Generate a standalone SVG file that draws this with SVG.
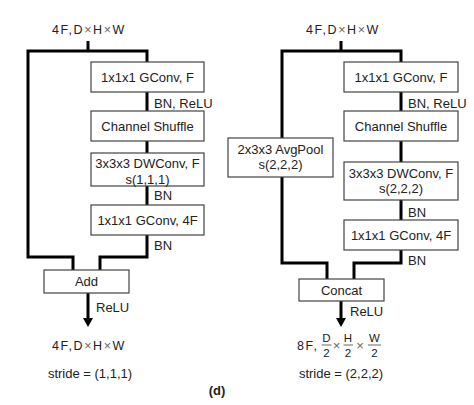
<svg xmlns="http://www.w3.org/2000/svg" width="474" height="405" viewBox="0 0 474 405">
<style>
text{font-family:"Liberation Sans",Arial,sans-serif;font-size:13px;fill:#222}
.c{text-anchor:middle}
.t{font-size:12.5px;letter-spacing:1.6px}
.x{fill:#666}
.f{font-size:11.5px;text-anchor:middle}
.m{font-size:13px;text-anchor:middle;fill:#666}
.box{fill:#fff;stroke:#444;stroke-width:1.2}
.ln{fill:none;stroke:#000;stroke-width:3;stroke-linejoin:miter}
.fl{stroke:#555;stroke-width:0.9}
.b{font-weight:bold}
</style>
<rect width="474" height="405" fill="#fff"/>
<g id="connectors">
<path class="ln" d="M88 41V51M147 62V51H28V257H73V270"/>
<path class="ln" d="M147 92V111M147 141V153M147 186V205M147 235V257H100V270"/>
<path class="ln" d="M88 293V319"/>
<polygon points="83,318 93,318 88,327" fill="#000"/>
<path class="ln" d="M341 41V51M401 62V51H282V263H327V279"/>
<path class="ln" d="M401 92V111M401 141V162M401 200V220M401 250V263H354V279"/>
<path class="ln" d="M341 301V319"/>
<polygon points="336,318 346,318 341,327" fill="#000"/>
<text x="154" y="107.5">BN, ReLU</text>
<text x="154" y="200">BN</text>
<text x="154" y="249.5">BN</text>
<text x="96" y="312">ReLU</text>
<text x="408" y="107.5">BN, ReLU</text>
<text x="408" y="216.5">BN</text>
<text x="408" y="264.5">BN</text>
<text x="350" y="316">ReLU</text>
</g>
<g id="left-input"><text class="c t" x="89" y="33.5">4F,D<tspan class="x">×</tspan>H<tspan class="x">×</tspan>W</text></g>
<g id="left-gconv1"><rect class="box" x="91" y="62" width="113" height="30"/><text class="c" x="147.5" y="81.5">1x1x1 GConv, F</text></g>
<g id="left-shuffle"><rect class="box" x="91" y="111" width="113" height="30"/><text class="c" x="147.5" y="130.5">Channel Shuffle</text></g>
<g id="left-dwconv"><rect class="box" x="91" y="153" width="113" height="33"/><text class="c" x="147.5" y="168">3x3x3 DWConv, F</text><text class="c" x="147.5" y="184">s(1,1,1)</text></g>
<g id="left-gconv2"><rect class="box" x="91" y="205" width="113" height="30"/><text class="c" x="147.5" y="224.5">1x1x1 GConv, 4F</text></g>
<g id="left-add"><rect class="box" x="44" y="270" width="85" height="23"/><text class="c" x="86.5" y="286">Add</text></g>
<g id="left-output"><text class="c t" x="89" y="350">4F,D<tspan class="x">×</tspan>H<tspan class="x">×</tspan>W</text><text class="c" x="90" y="378">stride = (1,1,1)</text></g>
<g id="right-input"><text class="c t" x="343" y="33.5">4F,D<tspan class="x">×</tspan>H<tspan class="x">×</tspan>W</text></g>
<g id="right-gconv1"><rect class="box" x="344" y="62" width="114" height="30"/><text class="c" x="401" y="81.5">1x1x1 GConv, F</text></g>
<g id="right-shuffle"><rect class="box" x="344" y="111" width="114" height="30"/><text class="c" x="401" y="130.5">Channel Shuffle</text></g>
<g id="right-dwconv"><rect class="box" x="344" y="162" width="114" height="38"/><text class="c" x="401" y="178">3x3x3 DWConv, F</text><text class="c" x="401" y="193">s(2,2,2)</text></g>
<g id="right-gconv2"><rect class="box" x="344" y="220" width="114" height="30"/><text class="c" x="401" y="239.5">1x1x1 GConv, 4F</text></g>
<g id="right-avgpool"><rect class="box" x="228" y="138" width="105" height="39"/><text class="c" x="280.5" y="154">2x3x3 AvgPool</text><text class="c" x="280.5" y="169">s(2,2,2)</text></g>
<g id="right-concat"><rect class="box" x="299" y="279" width="85" height="22"/><text class="c" x="341.5" y="294.5">Concat</text></g>
<g id="right-output">
<text class="t" x="297" y="350">8F,</text>
<text class="f" x="326.5" y="341.5">D</text><line class="fl" x1="321.5" y1="345" x2="331.5" y2="345"/><text class="f" x="326.5" y="356.5">2</text>
<text class="m" x="336.5" y="350">×</text>
<text class="f" x="348" y="341.5">H</text><line class="fl" x1="343.5" y1="345" x2="353" y2="345"/><text class="f" x="348" y="356.5">2</text>
<text class="m" x="360" y="350">×</text>
<text class="f" x="374.5" y="341.5">W</text><line class="fl" x1="368" y1="345" x2="381" y2="345"/><text class="f" x="374.5" y="356.5">2</text>
<text class="c" x="341" y="378">stride = (2,2,2)</text>
</g>
<g id="caption"><text class="c b" x="217" y="395">(d)</text></g>
</svg>
